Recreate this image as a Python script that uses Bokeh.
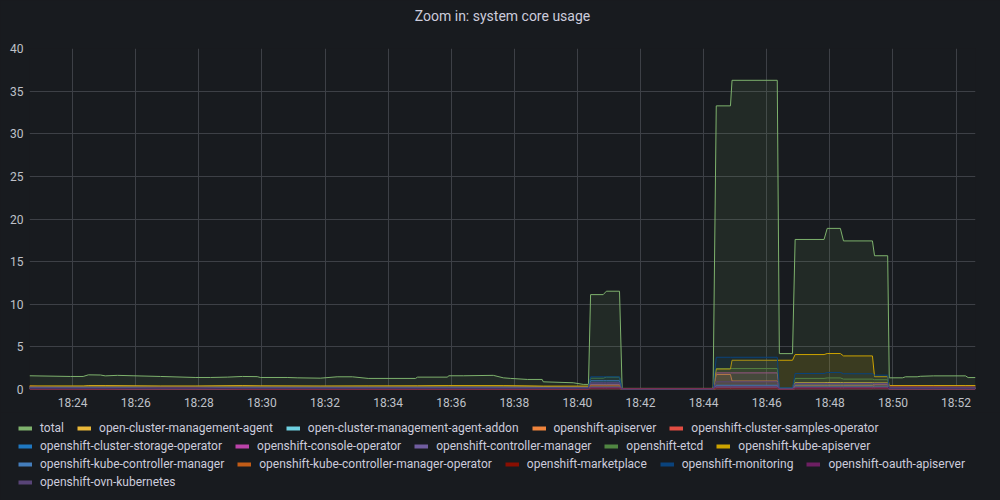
import pandas as pd
from bokeh.plotting import figure
from bokeh.layouts import column
from bokeh.models import (Range1d, FixedTicker, DatetimeTickFormatter, Legend, Title,
                          LegendItem, ColumnDataSource, GlobalInlineStyleSheet)
from bokeh.embed import file_html
from bokeh.resources import INLINE

TITLE = "Zoom in: system core usage"
DAY = "2024-01-01 "

tick_labels = ["18:24", "18:26", "18:28", "18:30", "18:32", "18:34", "18:36", "18:38",
               "18:40", "18:42", "18:44", "18:46", "18:48", "18:50", "18:52"]
y_ticks = [0, 5, 10, 15, 20, 25, 30, 35, 40]

# ---- total (own breakpoints) ----
total_t = ["18:22:38", "18:23:56", "18:24:20", "18:24:30", "18:24:53", "18:25:02", "18:25:25",
           "18:25:55", "18:26:47", "18:27:53", "18:28:22", "18:28:54", "18:29:23", "18:29:51",
           "18:29:57", "18:30:48", "18:31:07", "18:31:51", "18:32:23", "18:32:52", "18:33:22",
           "18:34:52", "18:34:56", "18:35:53", "18:35:55", "18:36:23", "18:37:20", "18:37:39",
           "18:37:53", "18:38:25", "18:38:53", "18:38:55", "18:39:52", "18:40:11", "18:40:21",
           "18:40:25", "18:40:49", "18:40:55", "18:41:20", "18:41:25", "18:44:18", "18:44:24",
           "18:44:51", "18:44:54", "18:46:20", "18:46:24", "18:46:49", "18:46:54", "18:47:49",
           "18:47:55", "18:48:20", "18:48:26", "18:49:21", "18:49:25", "18:49:50", "18:49:53",
           "18:50:18", "18:50:24", "18:50:46", "18:50:52", "18:51:17", "18:52:18", "18:52:23",
           "18:52:37"]
total_v = [1.61, 1.53, 1.53, 1.72, 1.70, 1.60, 1.66,
           1.61, 1.53, 1.41, 1.41, 1.45, 1.53, 1.51,
           1.41, 1.41, 1.37, 1.33, 1.49, 1.49, 1.30,
           1.30, 1.45, 1.45, 1.61, 1.61, 1.66, 1.37,
           1.30, 1.18, 1.18, 0.90, 0.79, 0.60, 0.60,
           11.13, 11.13, 11.53, 11.53, 0.13, 0.13, 33.27,
           33.27, 36.27, 36.27, 4.21, 4.21, 17.60, 17.60,
           18.90, 18.90, 17.43, 17.43, 15.69, 15.69, 1.37,
           1.37, 1.49, 1.49, 1.55, 1.60, 1.60, 1.40,
           1.40]

# ---- components (shared breakpoints) ----
comp_t = ["18:22:38", "18:24:20", "18:24:30", "18:25:02", "18:26:47", "18:27:53", "18:29:23",
          "18:29:57", "18:31:51", "18:33:22", "18:34:56", "18:35:55", "18:37:39", "18:38:55",
          "18:40:21", "18:40:25", "18:40:49", "18:40:55", "18:41:20", "18:41:25", "18:44:18",
          "18:44:24", "18:44:51", "18:44:54", "18:46:20", "18:46:24", "18:46:49", "18:46:54",
          "18:47:49", "18:47:55", "18:48:20", "18:48:26", "18:49:21", "18:49:25", "18:49:50",
          "18:49:53", "18:50:46", "18:51:17", "18:52:18", "18:52:37"]

ocm_agent_v = [0.36, 0.36, 0.45, 0.45, 0.38, 0.38, 0.45, 0.40, 0.38, 0.38,
               0.40, 0.45, 0.42, 0.35, 0.30, 0.55, 0.55, 0.55, 0.55, 0.02,
               0.02, 0.30, 0.30, 0.30, 0.30, 0.05, 0.05, 0.80, 0.80, 0.82,
               0.82, 0.80, 0.80, 0.78, 0.78, 0.45, 0.45, 0.45, 0.45, 0.45]
ocm_addon_v = [0.08, 0.08, 0.08, 0.08, 0.08, 0.08, 0.08, 0.08, 0.08, 0.08,
               0.08, 0.08, 0.08, 0.08, 0.08, 0.12, 0.12, 0.12, 0.12, 0.00,
               0.00, 0.10, 0.10, 0.10, 0.10, 0.02, 0.02, 0.10, 0.10, 0.10,
               0.10, 0.10, 0.10, 0.10, 0.10, 0.08, 0.08, 0.08, 0.08, 0.08]
apiserver_v = [0.25, 0.25, 0.25, 0.28, 0.28, 0.25, 0.25, 0.25, 0.22, 0.22,
               0.22, 0.25, 0.25, 0.22, 0.25, 0.45, 0.45, 0.45, 0.45, 0.00,
               0.00, 1.76, 1.76, 1.00, 1.00, 0.05, 0.05, 0.50, 0.50, 0.50,
               0.50, 0.50, 0.50, 0.63, 0.63, 0.25, 0.25, 0.25, 0.25, 0.25]
samples_v = [0.40, 0.08, 0.08, 0.08, 0.08, 0.08, 0.08, 0.08, 0.08, 0.08,
             0.08, 0.08, 0.08, 0.08, 0.08, 0.10, 0.10, 0.10, 0.10, 0.00,
             0.00, 0.10, 0.10, 0.10, 0.10, 0.02, 0.02, 0.10, 0.10, 0.10,
             0.10, 0.10, 0.10, 0.60, 0.60, 0.38, 0.38, 0.38, 0.10, 0.10]
storage_v = [0.15, 0.15, 0.15, 0.15, 0.15, 0.15, 0.15, 0.15, 0.15, 0.15,
             0.15, 0.15, 0.15, 0.15, 0.15, 0.30, 0.30, 0.30, 0.30, 0.00,
             0.00, 0.40, 0.40, 0.40, 0.40, 0.05, 0.05, 0.30, 0.30, 0.30,
             0.30, 0.30, 0.30, 0.30, 0.30, 0.15, 0.15, 0.15, 0.15, 0.15]
console_v = [0.05, 0.05, 0.05, 0.05, 0.05, 0.05, 0.05, 0.05, 0.05, 0.05,
             0.05, 0.05, 0.05, 0.05, 0.05, 0.63, 0.63, 0.63, 0.63, 0.00,
             0.00, 1.95, 1.95, 1.95, 1.95, 0.02, 0.02, 0.20, 0.20, 0.20,
             0.20, 0.20, 0.20, 0.20, 0.20, 0.05, 0.05, 0.05, 0.05, 0.05]
ctrl_mgr_v = [0.10, 0.10, 0.10, 0.10, 0.10, 0.10, 0.10, 0.10, 0.10, 0.10,
              0.10, 0.10, 0.10, 0.10, 0.10, 0.20, 0.20, 0.20, 0.20, 0.00,
              0.00, 0.30, 0.30, 0.30, 0.30, 0.02, 0.02, 0.25, 0.25, 0.25,
              0.25, 0.25, 0.25, 0.25, 0.25, 0.10, 0.10, 0.10, 0.10, 0.10]
etcd_v = [0.30, 0.30, 0.30, 0.30, 0.30, 0.30, 0.30, 0.30, 0.30, 0.30,
          0.30, 0.30, 0.30, 0.28, 0.28, 1.33, 1.33, 1.45, 1.45, 0.00,
          0.00, 2.46, 2.46, 2.46, 2.46, 0.20, 0.20, 1.30, 1.30, 1.36,
          1.36, 1.22, 1.22, 1.15, 1.15, 0.30, 0.30, 0.30, 0.30, 0.30]
kube_api_v = [0.42, 0.42, 0.42, 0.42, 0.40, 0.40, 0.42, 0.42, 0.40, 0.42,
              0.42, 0.45, 0.45, 0.40, 0.40, 0.48, 0.48, 0.48, 0.48, 0.12,
              0.12, 2.40, 2.40, 3.43, 3.43, 3.43, 3.43, 4.10, 4.10, 4.22,
              4.22, 3.94, 3.94, 1.50, 1.50, 0.44, 0.44, 0.44, 0.44, 0.44]
kcm_v = [0.20, 0.20, 0.20, 0.20, 0.20, 0.20, 0.20, 0.20, 0.20, 0.20,
         0.20, 0.20, 0.20, 0.20, 0.20, 1.03, 1.03, 1.03, 1.03, 0.00,
         0.00, 0.50, 0.50, 0.50, 0.50, 0.05, 0.05, 0.68, 0.68, 0.68,
         0.68, 0.68, 0.68, 0.68, 0.68, 0.20, 0.20, 0.20, 0.20, 0.20]
kcm_op_v = [0.05, 0.05, 0.05, 0.05, 0.05, 0.05, 0.05, 0.05, 0.05, 0.05,
            0.05, 0.05, 0.05, 0.05, 0.05, 0.45, 0.45, 0.45, 0.45, 0.00,
            0.00, 0.15, 0.15, 0.15, 0.15, 0.02, 0.02, 0.15, 0.15, 0.15,
            0.15, 0.15, 0.15, 0.15, 0.15, 0.05, 0.05, 0.05, 0.05, 0.05]
marketplace_v = [0.05, 0.05, 0.05, 0.05, 0.20, 0.20, 0.05, 0.05, 0.05, 0.05,
                 0.05, 0.05, 0.05, 0.05, 0.05, 0.10, 0.10, 0.10, 0.10, 0.00,
                 0.00, 0.10, 0.10, 0.10, 0.10, 0.02, 0.02, 0.10, 0.10, 0.10,
                 0.10, 0.10, 0.10, 0.10, 0.10, 0.30, 0.30, 0.30, 0.30, 0.30]
monitoring_v = [0.15, 0.15, 0.15, 0.15, 0.15, 0.15, 0.15, 0.15, 0.15, 0.15,
                0.15, 0.15, 0.15, 0.15, 0.15, 1.49, 1.49, 1.49, 1.49, 0.00,
                0.00, 3.78, 3.78, 3.78, 3.78, 0.20, 0.20, 1.88, 1.88, 2.00,
                2.00, 1.85, 1.85, 1.68, 1.68, 0.15, 0.15, 0.15, 0.15, 0.15]
oauth_v = [0.05, 0.05, 0.05, 0.05, 0.05, 0.05, 0.05, 0.05, 0.05, 0.05,
           0.05, 0.05, 0.05, 0.05, 0.05, 0.20, 0.20, 0.20, 0.20, 0.10,
           0.10, 0.30, 0.30, 0.30, 0.30, 0.02, 0.02, 0.20, 0.20, 0.20,
           0.20, 0.20, 0.20, 0.20, 0.20, 0.05, 0.05, 0.05, 0.05, 0.05]
ovn_v = [0.28, 0.28, 0.28, 0.28, 0.28, 0.28, 0.28, 0.28, 0.28, 0.28,
         0.28, 0.28, 0.28, 0.26, 0.26, 0.80, 0.80, 0.80, 0.80, 0.00,
         0.00, 0.90, 0.90, 0.90, 0.90, 0.10, 0.10, 0.70, 0.70, 0.70,
         0.70, 0.70, 0.70, 0.70, 0.70, 0.28, 0.28, 0.28, 0.28, 0.28]

series_names = ["total", "open-cluster-management-agent", "open-cluster-management-agent-addon",
                "openshift-apiserver", "openshift-cluster-samples-operator",
                "openshift-cluster-storage-operator", "openshift-console-operator",
                "openshift-controller-manager", "openshift-etcd", "openshift-kube-apiserver",
                "openshift-kube-controller-manager", "openshift-kube-controller-manager-operator",
                "openshift-marketplace", "openshift-monitoring", "openshift-oauth-apiserver",
                "openshift-ovn-kubernetes"]
series_colors = ["#7EB26D", "#EAB839", "#6ED0E0", "#EF843C", "#E24D42", "#1F78C1", "#BA43A9",
                 "#705DA0", "#508642", "#CCA300", "#447EBC", "#C15C17", "#890F02", "#0A437C",
                 "#6D1F62", "#584477"]
series_values = [total_v, ocm_agent_v, ocm_addon_v, apiserver_v, samples_v, storage_v, console_v,
                 ctrl_mgr_v, etcd_v, kube_api_v, kcm_v, kcm_op_v, marketplace_v, monitoring_v,
                 oauth_v, ovn_v]
legend_row_sizes = [5, 5, 5, 1]

BG = "#181b1f"
TEXT = "#ccccdc"
AXTEXT = "#bfc1c8"
GRID = "#3d4046"
FONT = "Roboto"

W = 1000
H_MAIN = 412
H_LEG = 88


def ts(lst):
    return pd.to_datetime([DAY + s for s in lst])


total_x = ts(total_t)
comp_x = ts(comp_t)

p = figure(width=W, height=H_MAIN, x_axis_type="datetime", output_backend="svg",
           toolbar_location=None, title=TITLE,
           x_range=Range1d(total_x[0], total_x[-1]), y_range=Range1d(y_ticks[0], y_ticks[-1]),
           min_border_left=29, min_border_right=25, min_border_top=48, min_border_bottom=21,
           background_fill_color=BG, border_fill_color=BG, outline_line_color=None)
p.frame_align = False

# spacer between the frame and the title (pushes the title to the top edge)
p.add_layout(Title(text=" ", text_font_size="2px", standoff=20, text_color=BG), "above")
p.title.text_font = FONT
p.title.text_font_size = "14px"
p.title.text_font_style = "normal"
p.title.text_color = TEXT
p.title.align = "center"
p.title.standoff = 2

epoch = pd.Timestamp("1970-01-01")
tick_ms = [(pd.Timestamp(DAY + t) - epoch).total_seconds() * 1000.0 for t in tick_labels]
p.xaxis.ticker = FixedTicker(ticks=tick_ms)
p.xaxis.formatter = DatetimeTickFormatter(milliseconds="%H:%M", seconds="%H:%M", minsec="%H:%M",
                                          minutes="%H:%M", hourmin="%H:%M", hours="%H:%M",
                                          days="%H:%M")
p.yaxis.ticker = FixedTicker(ticks=y_ticks)

for ax in (p.xaxis[0], p.yaxis[0]):
    ax.axis_line_color = None
    ax.major_tick_line_color = None
    ax.minor_tick_line_color = None
    ax.major_tick_in = 0
    ax.major_tick_out = 0
    ax.minor_tick_in = 0
    ax.minor_tick_out = 0
    ax.major_label_text_font = FONT
    ax.major_label_text_font_size = "12px"
    ax.major_label_text_color = AXTEXT
p.xaxis.major_label_standoff = 6
p.yaxis.major_label_standoff = 6

p.xgrid.grid_line_color = GRID
p.ygrid.grid_line_color = GRID

for name, color, vals in zip(series_names, series_colors, series_values):
    xs = total_x if name == "total" else comp_x
    src = ColumnDataSource(dict(x=xs, y=vals))
    alpha = 0.1 if name == "total" else 0.15
    p.varea(x="x", y1=0, y2="y", source=src, fill_color=color, fill_alpha=alpha)
    p.line(x="x", y="y", source=src, line_color=color, line_width=1)

# ---- legend strip ----
lp = figure(width=W, height=H_LEG, output_backend="svg", toolbar_location=None,
            x_axis_location=None, y_axis_location=None,
            x_range=Range1d(0, 1), y_range=Range1d(0, 1),
            min_border_left=0, min_border_right=0, min_border_top=0, min_border_bottom=0,
            background_fill_color=BG, border_fill_color=BG, outline_line_color=None)
lp.frame_align = False
lp.grid.visible = False
nan = float("nan")
proxies = [lp.line(x=[nan], y=[nan], line_color=c, line_width=4) for c in series_colors]

start = 0
for i, n in enumerate(legend_row_sizes):
    items = [LegendItem(label=series_names[k], renderers=[proxies[k]])
             for k in range(start, start + n)]
    start += n
    lg = Legend(items=items, orientation="horizontal", location=(18, H_LEG - 25 - 18 * i),
                glyph_width=14, glyph_height=18, label_height=18, label_standoff=8,
                spacing=13, padding=0, margin=0, border_line_color=None,
                background_fill_alpha=0, label_text_font=FONT, label_text_font_size="12px",
                label_text_color=TEXT, label_text_baseline="middle")
    lp.add_layout(lg)

layout = column(p, lp, spacing=0)
layout.stylesheets = [GlobalInlineStyleSheet(css="body { background: #181b1f; }")]

open("out.html", "w").write(file_html(layout, INLINE))
